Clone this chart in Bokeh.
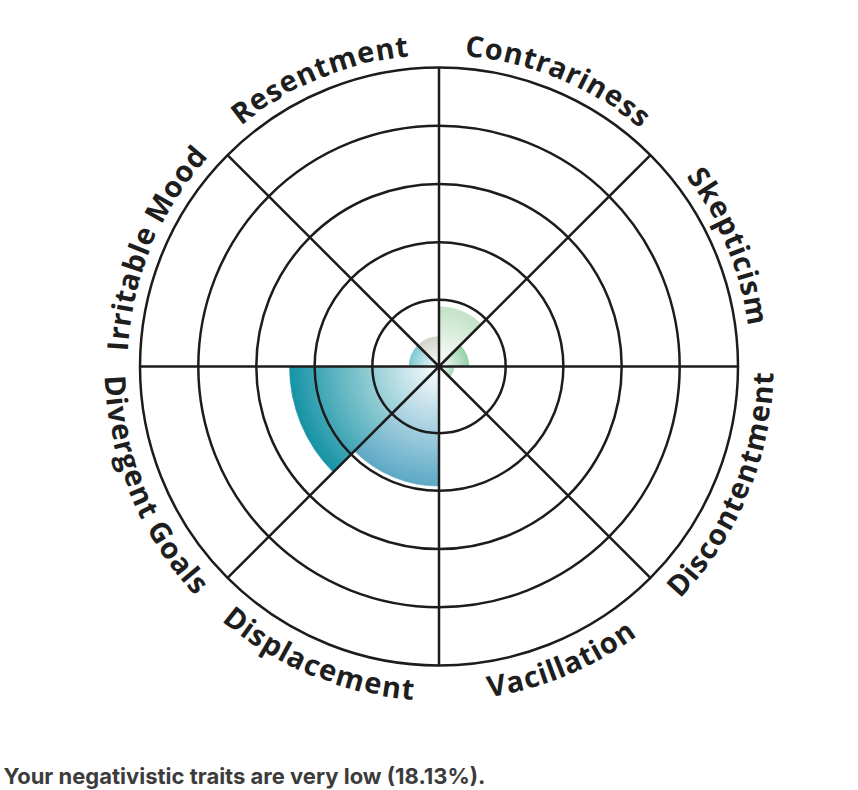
import math
from bokeh.plotting import figure
from bokeh.models import Range1d, ColumnDataSource
from bokeh.core.properties import value
from bokeh.embed import file_html
from bokeh.resources import INLINE

# ---------------- data ----------------
categories = ["Contrariness", "Skepticism", "Discontentment", "Vacillation",
              "Displacement", "Divergent Goals", "Irritable Mood", "Resentment"]
scores = [20, 10, 5, 0, 40, 50, 10, 10]          # percent of full radius
sector_colors = ["#c4e3c8", "#98d1a8", "#a9d8b5", "#98d1a8",
                 "#5eaac6", "#1994a6", "#7fcad2", "#d0d4ca"]
ring_levels = [22.3, 41.6, 61.1, 80.5, 100]       # grid rings (percent)
overall = 18.13
caption = "Your negativistic traits are very low (%.2f%%)." % overall

# ---------------- geometry / style ----------------
W, H = 858, 790
CX, CY = 438.5, 424.0
R = 299.0
FS = 29
RB_TOP = 323.0
RB_BOT = 323.0
SPACE_TOP = 1.08
SPACE_BOT = 1.03

# approximate Open Sans Bold advance widths (units per 2048)
ADV = {' ': 532, 'a': 1225, 'b': 1290, 'c': 1073, 'd': 1290, 'e': 1219, 'f': 825,
       'g': 1139, 'h': 1352, 'i': 616, 'k': 1266, 'l': 616, 'm': 1997, 'n': 1352,
       'o': 1264, 'p': 1290, 'r': 918, 's': 1059, 't': 887, 'u': 1352, 'v': 1174,
       'y': 1174, 'C': 1292, 'D': 1477, 'G': 1491, 'I': 758, 'M': 1853,
       'R': 1358, 'S': 1149, 'V': 1313}


def adv(ch):
    return ADV.get(ch, 1200) / 2048.0 * FS


def mix(hexcol, t):
    r, g, b = int(hexcol[1:3], 16), int(hexcol[3:5], 16), int(hexcol[5:7], 16)
    return "#%02x%02x%02x" % (round(255 + (r - 255) * t),
                              round(255 + (g - 255) * t),
                              round(255 + (b - 255) * t))


p = figure(width=W, height=H, x_range=Range1d(0, W), y_range=Range1d(0, H),
           output_backend="svg", toolbar_location=None,
           x_axis_location=None, y_axis_location=None, min_border=0)
p.grid.visible = False
p.outline_line_color = None
p.background_fill_color = "white"
p.border_fill_color = "white"

# ---------------- gradient sectors ----------------
N = 40
wx, wy, wr, ws, we, wc = [], [], [], [], [], []
for i, (cat, v, col) in enumerate(zip(categories, scores, sector_colors)):
    if v <= 0:
        continue
    rv = v / 100.0 * R
    a0 = math.radians(90 - 45 * (i + 1))
    a1 = math.radians(90 - 45 * i)
    for k in range(N, 0, -1):
        t = k / N
        wx.append(CX); wy.append(CY); wr.append(rv * t)
        ws.append(a0); we.append(a1); wc.append(mix(col, t))
src = ColumnDataSource(dict(x=wx, y=wy, r=wr, s=ws, e=we, c=wc))
p.wedge(x="x", y="y", radius="r", start_angle="s", end_angle="e",
        fill_color="c", line_color="c", line_width=0.6, source=src)

# ---------------- grid ----------------
GRID = "#1c1c1c"
p.circle(x=[CX] * len(ring_levels), y=[CY] * len(ring_levels),
         radius=[lv / 100.0 * R for lv in ring_levels],
         fill_color=None, line_color=GRID, line_width=2.5)
sx0, sy0, sx1, sy1 = [], [], [], []
for k in range(len(categories)):
    a = math.radians(90 - 45 * k)
    sx0.append(CX); sy0.append(CY)
    sx1.append(CX + R * math.cos(a)); sy1.append(CY + R * math.sin(a))
p.segment(x0=sx0, y0=sy0, x1=sx1, y1=sy1, line_color=GRID, line_width=2.5)
p.circle(x=[CX], y=[CY], radius=3, fill_color=GRID, line_color=None)

# ---------------- curved labels ----------------
lx, ly, lt, la = [], [], [], []
for i, cat in enumerate(categories):
    mid = math.radians(90 - 45 * i - 22.5)
    top = math.sin(mid) > 0
    sp = SPACE_TOP if top else SPACE_BOT
    widths = [adv(c) * sp for c in cat]
    L = sum(widths)
    rb = RB_TOP if top else RB_BOT
    cum = 0.0
    for ch, w in zip(cat, widths):
        s = cum + w / 2.0 - L / 2.0
        if top:
            th = mid - s / rb
            ang = th - math.pi / 2
        else:
            th = mid + s / rb
            ang = th + math.pi / 2
        cum += w
        if ch == ' ':
            continue
        lx.append(CX + rb * math.cos(th)); ly.append(CY + rb * math.sin(th))
        lt.append(ch); la.append(ang)
p.text(x=lx, y=ly, text=lt, angle=la, text_font=value("Open Sans"),
       text_font_style="bold", text_font_size="%dpx" % FS,
       text_align="center", text_baseline="alphabetic", text_color="#1e1e1e")

# ---------------- caption ----------------
p.text(x=[3], y=[14.5], text=[caption], text_font=value("Inter"),
       text_font_style="bold", text_font_size="22px",
       text_align="left", text_baseline="alphabetic", text_color="#3c3c3c")

open("out.html", "w").write(file_html(p, INLINE))
